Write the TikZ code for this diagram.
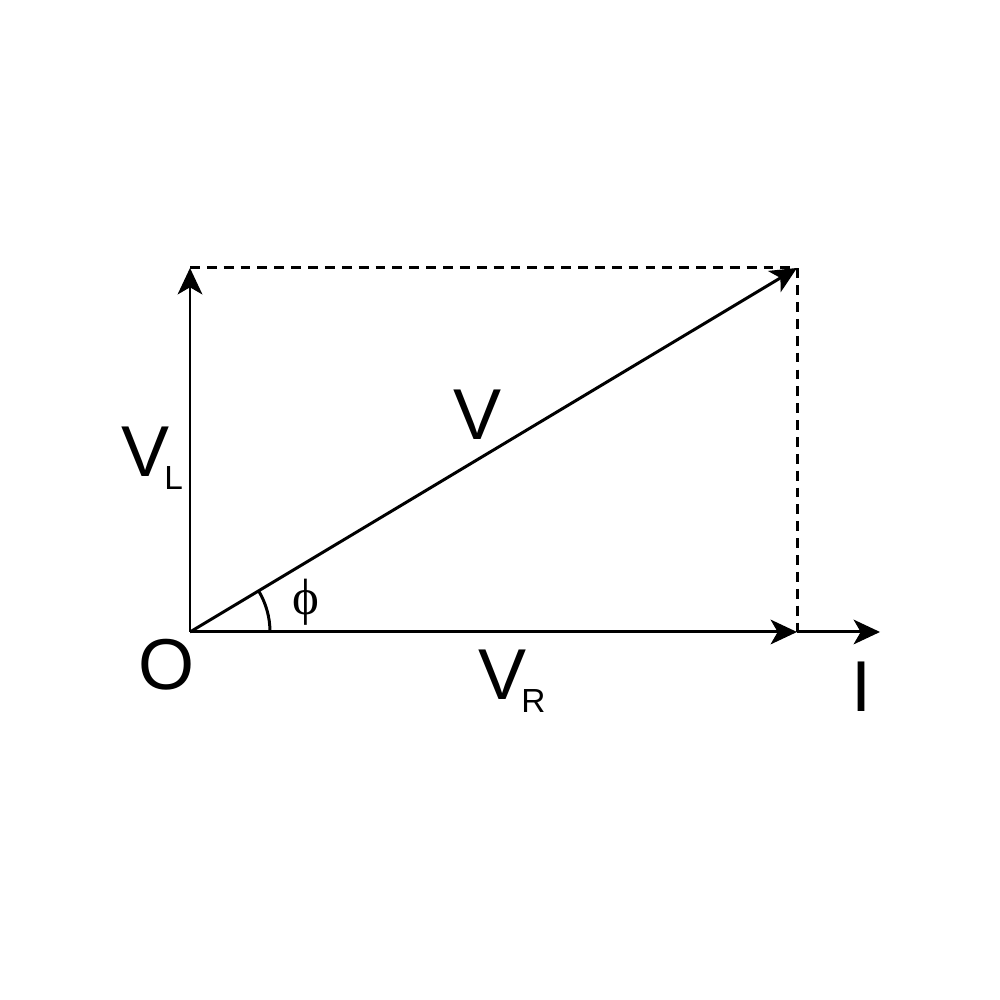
\documentclass[tikz,border=0pt]{standalone}
\usepackage{fontspec}
\setmainfont{Liberation Sans}
\newfontfamily\grkfont{Liberation Serif}
\usetikzlibrary{arrows.meta}
\newcommand{\sub}[1]{\kern-1.5pt\raisebox{-3.5pt}{\fontsize{9.5}{12}\selectfont #1}}

\begin{document}
\begin{tikzpicture}[line width=0.85pt,
  vec/.style={-{Stealth[length=7.5pt,width=7pt,inset=2pt]}},
  guide/.style={dash pattern=on 2.8pt off 2pt},
  lbl/.style={inner sep=0pt,font=\fontsize{20.5}{24}\selectfont}]
\useasboundingbox (0,0) rectangle (10,10);
\coordinate (O) at (1.90,3.68);
\coordinate (VL) at (1.90,7.32);
\coordinate (V) at (7.97,7.32);
\coordinate (VR) at (7.97,3.68);
\coordinate (I) at (8.80,3.68);
\draw[guide] (VL) -- (V) -- (VR);
\draw[vec] (O) -- (VL);
\draw[vec] (O) -- (V);
\draw[vec] (O) -- (VR);
\draw[vec] (VR) -- (I);
\draw (2.70,3.68) arc[start angle=0, end angle=30.95, radius=0.80];
\node[lbl,anchor=base west] (vl) at (1.20,5.23) {V\sub{L}};
\node[lbl,anchor=base west] (v) at (4.52,5.60) {V};
\node[lbl] (o) at (1.67,3.35) {O};
\node[lbl,anchor=base west] (vr) at (4.77,3.00) {V\sub{R}};
\node[lbl] (i) at (8.61,3.13) {I};
\node[inner sep=0pt,font=\grkfont\fontsize{14.5}{17}\selectfont] (phi) at (3.06,3.98) {ϕ};
\end{tikzpicture}
\end{document}
